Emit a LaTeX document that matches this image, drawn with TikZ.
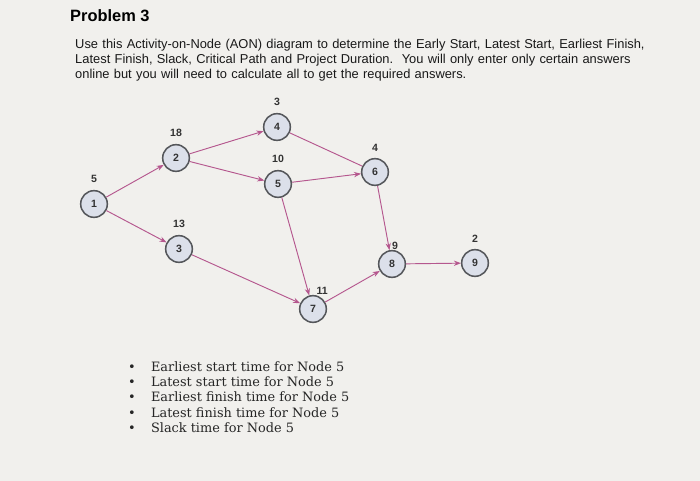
\documentclass[tikz,border=0pt]{standalone}
\usepackage{fontspec}
\setmainfont{DejaVu Serif}
\setsansfont{Liberation Sans}
\usepackage{xcolor}
\usetikzlibrary{positioning,arrows.meta}
\definecolor{paper}{HTML}{F1F0ED}
\definecolor{edgepink}{HTML}{B5578E}
\definecolor{nodefill}{HTML}{DCE0EA}
\definecolor{rimgrey}{HTML}{55575B}
\tikzstyle{activity} = [circle, minimum size=0.8cm, inner sep=0pt, draw=rimgrey, line width=1.3pt, fill=nodefill, font=\sffamily\bfseries\small, text=black!80]
\tikzstyle{dur} = [inner sep=0pt, font=\sffamily\bfseries\small, text=black!80]
\tikzstyle{arrow} = [line width=0.8pt, draw=edgepink, -{Stealth[length=6pt,width=4.5pt]}]
\tikzstyle{plain} = [line width=0.8pt, draw=edgepink]

\begin{document}
\begin{tikzpicture}[x=0.03cm,y=-0.03cm]

	\fill[paper] (0,0) rectangle (700,481);
	\useasboundingbox (0,0) rectangle (700,481);

	\node (title) [anchor=west, inner sep=0pt, font=\sffamily\bfseries\fontsize{14}{17}\selectfont] at (70,16) {Problem 3};
	\node (intro) [anchor=north west, inner sep=0pt, text width=17.1cm, align=left, font=\sffamily\fontsize{11}{12.75}\selectfont, text=black!90] at (75,39) {Use this Activity-on-Node (AON) diagram to determine the Early Start, Latest Start, Earliest Finish, Latest Finish, Slack, Critical Path and Project Duration.\ \ You will only enter only certain answers online but you will need to calculate all to get the required answers.};

	% activities
	\node (n1) [activity] at (94,204) {1};
	\node (n2) [activity] at (176,158) {2};
	\node (n3) [activity] at (179,249) {3};
	\node (n4) [activity] at (277,127) {4};
	\node (n5) [activity] at (278,184) {5};
	\node (n6) [activity] at (375,172) {6};
	\node (n7) [activity] at (313,309) {7};
	\node (n8) [activity] at (392,264) {8};
	\node (n9) [activity] at (475,263) {9};

	% durations
	\node (d1) [dur, above=0.2cm of n1] {5};
	\node (d2) [dur, above=0.2cm of n2] {18};
	\node (d3) [dur, above=0.2cm of n3] {13};
	\node (d4) [dur, above=0.2cm of n4] {3};
	\node (d5) [dur, above=0.2cm of n5] {10};
	\node (d6) [dur, above=0.2cm of n6] {4};
	\node (d7) [dur, above right=0.12cm and -0.2cm of n7] {11};
	\node (d8) [dur, above right=0.12cm and -0.3cm of n8] {9};
	\node (d9) [dur, above=0.2cm of n9] {2};

	\draw [arrow] (n1) -- (n2);
	\draw [arrow] (n1) -- (n3);
	\draw [arrow] (n2) -- (n4);
	\draw [arrow] (n2) -- (n5);
	\draw [plain] (n4) -- (n6);
	\draw [arrow] (n5) -- (n6);
	\draw [arrow] (n5) -- (n7);
	\draw [arrow] (n3) -- (n7);
	\draw [arrow] (n6) -- (n8);
	\draw [arrow] (n7) -- (n8);
	\draw [arrow] (n8) -- (n9);

	\node (asks) [anchor=north west, inner sep=0pt, font=\fontsize{11}{13.2}\selectfont, text=black!85] at (128,360) {%
		\begin{tabular}{@{}l@{\hspace{13pt}}l@{}}
		\textbullet & Earliest start time for Node 5\\
		\textbullet & Latest start time for Node 5\\
		\textbullet & Earliest finish time for Node 5\\
		\textbullet & Latest finish time for Node 5\\
		\textbullet & Slack time for Node 5
		\end{tabular}};

\end{tikzpicture}
\end{document}
